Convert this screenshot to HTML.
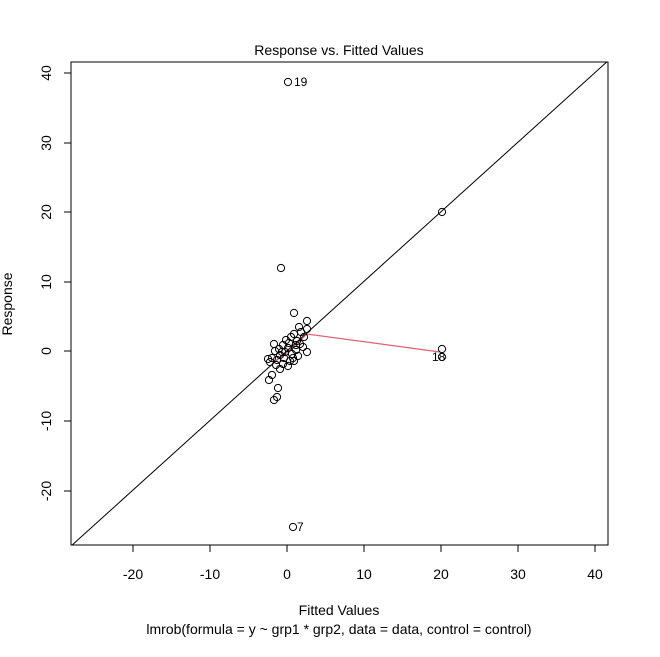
<!DOCTYPE html>
<html><head><meta charset="utf-8"><style>body{margin:0;background:#fff}svg{display:block}</style></head><body>
<svg width="660" height="657" viewBox="0 0 660 657" xmlns="http://www.w3.org/2000/svg" font-family="Liberation Sans, sans-serif">
<defs><clipPath id="c"><rect x="71" y="62" width="537" height="483"/></clipPath></defs>
<rect width="660" height="657" fill="#fff"/>
<rect x="71" y="62" width="537" height="483" fill="none" stroke="#000" stroke-width="1"/>
<text x="339" y="55" font-size="14" text-anchor="middle">Response vs. Fitted Values</text>
<g stroke="#000" stroke-width="1">
<line x1="133" y1="545" x2="133" y2="552"/><line x1="210" y1="545" x2="210" y2="552"/><line x1="287" y1="545" x2="287" y2="552"/><line x1="364" y1="545" x2="364" y2="552"/><line x1="441" y1="545" x2="441" y2="552"/><line x1="518" y1="545" x2="518" y2="552"/><line x1="595" y1="545" x2="595" y2="552"/>
<line x1="64" y1="73" x2="71" y2="73"/><line x1="64" y1="143" x2="71" y2="143"/><line x1="64" y1="212" x2="71" y2="212"/><line x1="64" y1="282" x2="71" y2="282"/><line x1="64" y1="351" x2="71" y2="351"/><line x1="64" y1="421" x2="71" y2="421"/><line x1="64" y1="491" x2="71" y2="491"/>
</g>
<g font-size="14" text-anchor="middle">
<text x="133" y="579">-20</text><text x="210" y="579">-10</text><text x="287" y="579">0</text><text x="364" y="579">10</text><text x="441" y="579">20</text><text x="518" y="579">30</text><text x="595" y="579">40</text>
</g>
<g font-size="14" text-anchor="middle">
<text transform="translate(51,73) rotate(-90)">40</text><text transform="translate(51,143) rotate(-90)">30</text><text transform="translate(51,212) rotate(-90)">20</text><text transform="translate(51,282) rotate(-90)">10</text><text transform="translate(51,351) rotate(-90)">0</text><text transform="translate(51,421) rotate(-90)">-10</text><text transform="translate(51,491) rotate(-90)">-20</text>
</g>
<text x="339" y="615" font-size="14" text-anchor="middle">Fitted Values</text>
<text x="339" y="634" font-size="14" text-anchor="middle">lmrob(formula = y ~ grp1 * grp2, data = data, control = control)</text>
<text transform="translate(12,304) rotate(-90)" font-size="14" text-anchor="middle">Response</text>
<g clip-path="url(#c)"><line x1="60" y1="556" x2="620" y2="50" stroke="#000" stroke-width="1"/></g>
<polyline points="272,364 290,350 307,334 440,352" fill="none" stroke="#e06070" stroke-width="1.2"/>
<g fill="none" stroke="#000" stroke-width="1">
<circle cx="288" cy="82" r="3.6"/><circle cx="442" cy="212" r="3.6"/><circle cx="281" cy="268" r="3.6"/><circle cx="293" cy="527" r="3.6"/>
<circle cx="442" cy="349" r="3.6"/><circle cx="442" cy="357" r="3.6"/>
<circle cx="294" cy="313" r="3.6"/><circle cx="307" cy="321" r="3.6"/><circle cx="299" cy="327" r="3.6"/><circle cx="307" cy="329" r="3.6"/><circle cx="301" cy="332" r="3.6"/><circle cx="294" cy="334" r="3.6"/><circle cx="304" cy="337" r="3.6"/><circle cx="297" cy="341" r="3.6"/><circle cx="291" cy="337" r="3.6"/><circle cx="289" cy="343" r="3.6"/><circle cx="300" cy="344" r="3.6"/><circle cx="307" cy="352" r="3.6"/><circle cx="296" cy="350" r="3.6"/><circle cx="288" cy="348" r="3.6"/><circle cx="283" cy="345" r="3.6"/><circle cx="279" cy="349" r="3.6"/><circle cx="285" cy="352" r="3.6"/><circle cx="292" cy="354" r="3.6"/><circle cx="280" cy="355" r="3.6"/><circle cx="275" cy="351" r="3.6"/><circle cx="272" cy="358" r="3.6"/><circle cx="277" cy="360" r="3.6"/><circle cx="284" cy="358" r="3.6"/><circle cx="290" cy="361" r="3.6"/><circle cx="270" cy="362" r="3.6"/><circle cx="276" cy="365" r="3.6"/><circle cx="283" cy="364" r="3.6"/><circle cx="280" cy="369" r="3.6"/><circle cx="288" cy="366" r="3.6"/><circle cx="294" cy="361" r="3.6"/><circle cx="298" cy="356" r="3.6"/><circle cx="286" cy="340" r="3.6"/><circle cx="296" cy="345" r="3.6"/><circle cx="303" cy="347" r="3.6"/><circle cx="268" cy="359" r="3.6"/><circle cx="274" cy="344" r="3.6"/><circle cx="282" cy="352" r="3.6"/><circle cx="293" cy="358" r="3.6"/>
<circle cx="272" cy="375" r="3.6"/><circle cx="269" cy="380" r="3.6"/><circle cx="278" cy="388" r="3.6"/><circle cx="277" cy="397" r="3.6"/><circle cx="274" cy="400" r="3.6"/>
</g>
<text x="294" y="86" font-size="12">19</text>
<text x="297" y="531" font-size="12">7</text>
<text x="432" y="361" font-size="12">18</text>
</svg>
</body></html>
